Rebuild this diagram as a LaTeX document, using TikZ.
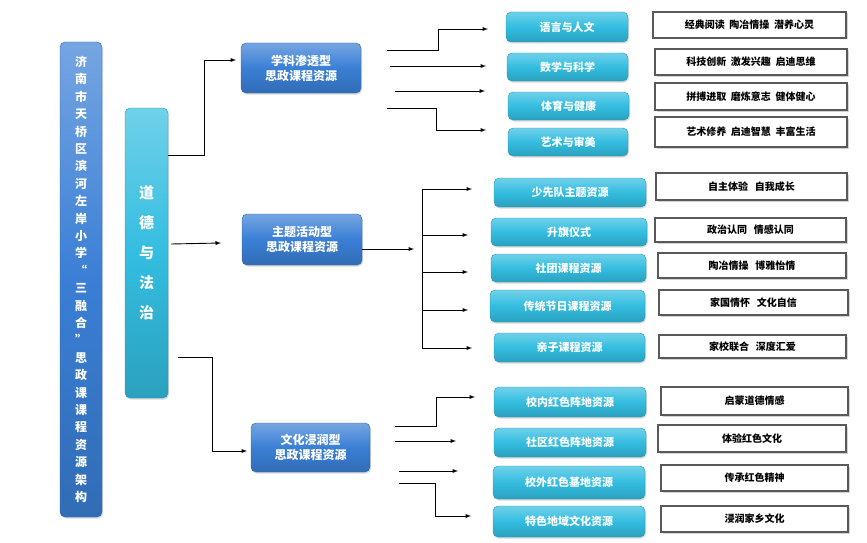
\documentclass[tikz,border=0pt]{standalone}
\usepackage{fontspec}
\setmainfont{Noto Sans CJK SC}
\usetikzlibrary{shadows}
\definecolor{dblue}{HTML}{3A7FD5}
\definecolor{cyanb}{HTML}{33BDE0}
\tikzset{x=1pt,y=-1pt,
 bluebox/.style={rounded corners=5pt,top color=dblue!70!white,bottom color=dblue!85!black,middle color=dblue,draw=dblue!80!black,text=white,font=\bfseries\fontsize{12}{15}\selectfont,align=center,drop shadow={opacity=0.3,shadow xshift=1pt,shadow yshift=-1.5pt},inner sep=0pt},
 cyanbox/.style={rounded corners=5pt,top color=cyanb!70!white,bottom color=cyanb!85!black,middle color=cyanb,draw=cyanb!80!black,text=white,font=\bfseries\fontsize{11}{13}\selectfont,align=center,drop shadow={opacity=0.3,shadow xshift=1pt,shadow yshift=-1.5pt},inner sep=0pt},
 wbox/.style={draw=gray!70!black,line width=1.3pt,fill=white,font=\bfseries\fontsize{10}{12}\selectfont,align=center,inner sep=0pt,drop shadow={opacity=0.35,shadow xshift=1.5pt,shadow yshift=-1.5pt}},
 conn/.style={line width=0.9pt,-latex}
}
\newcommand{\bx}[7]{\node[#1,minimum width=#4-#2,minimum height=#5-#3] (#6) at ({(#2+#4)/2},{(#3+#5)/2}) {#7};}
\begin{document}
\begin{tikzpicture}
\useasboundingbox (0,0) rectangle (867,543);
% left main
\bx{bluebox,font=\bfseries\fontsize{12}{17.4}\selectfont}{60}{42}{102}{517}{root}{济\\南\\市\\天\\桥\\区\\滨\\河\\左\\岸\\小\\学\\“\\三\\融\\合\\”\\思\\政\\课\\课\\程\\资\\源\\架\\构}
\bx{cyanbox,font=\bfseries\fontsize{15}{30}\selectfont}{125}{108}{168}{398}{ddfz}{道\\德\\与\\法\\治}
% categories
\bx{bluebox}{241}{43}{361}{93}{c1}{学科渗透型\\思政课程资源}
\bx{bluebox}{242}{214}{362}{265}{c2}{主题活动型\\思政课程资源}
\bx{bluebox}{251}{423}{370}{472}{c3}{文化浸润型\\思政课程资源}
\draw[conn] (ddfz.east |- 0,155) -- (204,155) -- (204,60) -- (236,60);
\draw[conn] (171,244) -- (221,243);
\draw[conn] (178,357) -- (212,357) -- (212,451) -- (247,451);
% subjects
\bx{cyanbox}{506}{12}{628}{42}{s1}{语言与人文}
\bx{cyanbox}{507}{53}{628}{81}{s2}{数学与科学}
\bx{cyanbox}{508}{92}{629}{120}{s3}{体育与健康}
\bx{cyanbox}{508}{128}{628}{156}{s4}{艺术与审美}
\bx{wbox}{653}{12}{846}{38}{r1}{经典阅读\ \ 陶冶情操\ \ 潜养心灵}
\bx{wbox}{655}{49}{847}{75}{r2}{科技创新\ \ 激发兴趣\ \ 启迪思维}
\bx{wbox}{655}{83}{847}{110}{r3}{拼搏进取\ \ 磨炼意志\ \ 健体健心}
\bx{wbox}{655}{117}{847}{147}{r4}{艺术修养\ \ 启迪智慧\ \ 丰富生活}
\draw[conn] (387,50) -- (438,50) -- (438,29) -- (488,29);
\draw[conn] (390,66) -- (486,66);
\draw[conn] (395,91) -- (485,91);
\draw[conn] (387,108) -- (436,108) -- (436,130) -- (486,130);
% theme
\bx{cyanbox}{494}{178}{646}{207}{t1}{少先队主题资源}
\bx{cyanbox}{491}{218}{647}{246}{t2}{升旗仪式}
\bx{cyanbox}{491}{254}{646}{282}{t3}{社团课程资源}
\bx{cyanbox}{490}{290}{645}{322}{t4}{传统节日课程资源}
\bx{cyanbox}{494}{333}{645}{362}{t5}{亲子课程资源}
\bx{wbox}{656}{173}{847}{200}{u1}{自主体验\ \ \ 自我成长}
\bx{wbox}{655}{218}{846}{242}{u2}{政治认同\ \ \ 情感认同}
\bx{wbox}{658}{253}{846}{278}{u3}{陶冶情操\ \ \ 博雅怡情}
\bx{wbox}{659}{290}{848}{315}{u4}{家国情怀\ \ \ 文化自信}
\bx{wbox}{659}{335}{846}{358}{u5}{家校联合\ \ \ 深度汇爱}
\draw[conn] (c2.east |- 0,249) -- (414,249);
\draw[line width=0.9pt] (422,189) -- (422,348);
\draw[conn] (422,189) -- (472,189);
\draw[conn] (422,235) -- (468,235);
\draw[conn] (422,272) -- (468,272);
\draw[conn] (422,310) -- (468,310);
\draw[conn] (422,348) -- (472,348);
% culture
\bx{cyanbox}{494}{387}{646}{417}{v1}{校内红色阵地资源}
\bx{cyanbox}{494}{428}{646}{457}{v2}{社区红色阵地资源}
\bx{cyanbox}{493}{466}{645}{499}{v3}{校外红色基地资源}
\bx{cyanbox}{493}{506}{645}{537}{v4}{特色地域文化资源}
\bx{wbox}{661}{387}{848}{415}{w1}{启蒙道德情感}
\bx{wbox}{658}{425}{846}{452}{w2}{体验红色文化}
\bx{wbox}{661}{465}{848}{491}{w3}{传承红色精神}
\bx{wbox}{661}{506}{848}{532}{w4}{浸润家乡文化}
\draw[conn] (395,426) -- (436,426) -- (436,397) -- (475,397);
\draw[conn] (395,441) -- (456,441);
\draw[conn] (399,471) -- (458,471);
\draw[conn] (399,483) -- (435,483) -- (435,516) -- (471,516);
\end{tikzpicture}
\end{document}
